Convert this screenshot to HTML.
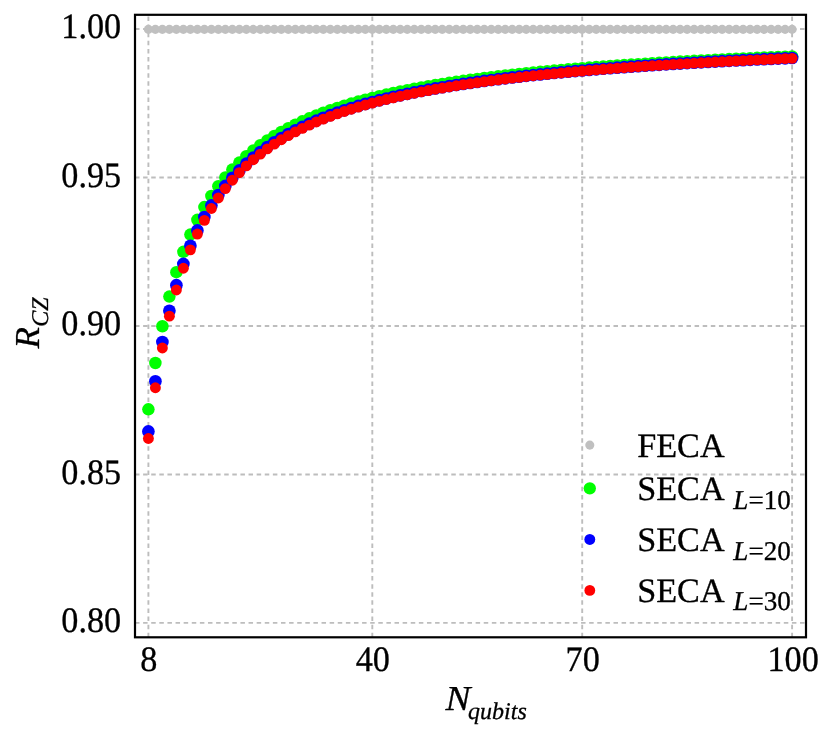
<!DOCTYPE html>
<html><head><meta charset="utf-8"><style>html,body{margin:0;padding:0;background:#fff;overflow:hidden}svg{display:block}text{text-rendering:geometricPrecision;stroke:#000;stroke-width:0.3px}</style></head>
<body><svg width="825" height="730" viewBox="0 0 825 730">
<rect width="825" height="730" fill="#fff"/>
<line x1="148.40" y1="637.30" x2="148.40" y2="14.80" stroke="#bdbdbd" stroke-width="1.9" stroke-dasharray="4.5 3.61" fill="none"/>
<line x1="372.30" y1="637.30" x2="372.30" y2="14.80" stroke="#bdbdbd" stroke-width="1.9" stroke-dasharray="4.5 3.61" fill="none"/>
<line x1="582.20" y1="637.30" x2="582.20" y2="14.80" stroke="#bdbdbd" stroke-width="1.9" stroke-dasharray="4.5 3.61" fill="none"/>
<line x1="792.10" y1="637.30" x2="792.10" y2="14.80" stroke="#bdbdbd" stroke-width="1.9" stroke-dasharray="4.5 3.61" fill="none"/>
<line x1="135.00" y1="29.00" x2="806.00" y2="29.00" stroke="#bdbdbd" stroke-width="1.9" stroke-dasharray="4.5 3.61" fill="none"/>
<line x1="135.00" y1="177.48" x2="806.00" y2="177.48" stroke="#bdbdbd" stroke-width="1.9" stroke-dasharray="4.5 3.61" fill="none"/>
<line x1="135.00" y1="325.95" x2="806.00" y2="325.95" stroke="#bdbdbd" stroke-width="1.9" stroke-dasharray="4.5 3.61" fill="none"/>
<line x1="135.00" y1="474.43" x2="806.00" y2="474.43" stroke="#bdbdbd" stroke-width="1.9" stroke-dasharray="4.5 3.61" fill="none"/>
<line x1="135.00" y1="622.90" x2="806.00" y2="622.90" stroke="#bdbdbd" stroke-width="1.9" stroke-dasharray="4.5 3.61" fill="none"/>
<g fill="#c0c0c0"><circle cx="148.40" cy="29.40" r="4.55"/><circle cx="155.40" cy="29.40" r="4.55"/><circle cx="162.39" cy="29.40" r="4.55"/><circle cx="169.39" cy="29.40" r="4.55"/><circle cx="176.39" cy="29.40" r="4.55"/><circle cx="183.38" cy="29.40" r="4.55"/><circle cx="190.38" cy="29.40" r="4.55"/><circle cx="197.38" cy="29.40" r="4.55"/><circle cx="204.37" cy="29.40" r="4.55"/><circle cx="211.37" cy="29.40" r="4.55"/><circle cx="218.37" cy="29.40" r="4.55"/><circle cx="225.36" cy="29.40" r="4.55"/><circle cx="232.36" cy="29.40" r="4.55"/><circle cx="239.36" cy="29.40" r="4.55"/><circle cx="246.35" cy="29.40" r="4.55"/><circle cx="253.35" cy="29.40" r="4.55"/><circle cx="260.35" cy="29.40" r="4.55"/><circle cx="267.34" cy="29.40" r="4.55"/><circle cx="274.34" cy="29.40" r="4.55"/><circle cx="281.34" cy="29.40" r="4.55"/><circle cx="288.33" cy="29.40" r="4.55"/><circle cx="295.33" cy="29.40" r="4.55"/><circle cx="302.33" cy="29.40" r="4.55"/><circle cx="309.33" cy="29.40" r="4.55"/><circle cx="316.32" cy="29.40" r="4.55"/><circle cx="323.32" cy="29.40" r="4.55"/><circle cx="330.32" cy="29.40" r="4.55"/><circle cx="337.31" cy="29.40" r="4.55"/><circle cx="344.31" cy="29.40" r="4.55"/><circle cx="351.31" cy="29.40" r="4.55"/><circle cx="358.30" cy="29.40" r="4.55"/><circle cx="365.30" cy="29.40" r="4.55"/><circle cx="372.30" cy="29.40" r="4.55"/><circle cx="379.29" cy="29.40" r="4.55"/><circle cx="386.29" cy="29.40" r="4.55"/><circle cx="393.29" cy="29.40" r="4.55"/><circle cx="400.28" cy="29.40" r="4.55"/><circle cx="407.28" cy="29.40" r="4.55"/><circle cx="414.28" cy="29.40" r="4.55"/><circle cx="421.27" cy="29.40" r="4.55"/><circle cx="428.27" cy="29.40" r="4.55"/><circle cx="435.27" cy="29.40" r="4.55"/><circle cx="442.26" cy="29.40" r="4.55"/><circle cx="449.26" cy="29.40" r="4.55"/><circle cx="456.26" cy="29.40" r="4.55"/><circle cx="463.25" cy="29.40" r="4.55"/><circle cx="470.25" cy="29.40" r="4.55"/><circle cx="477.25" cy="29.40" r="4.55"/><circle cx="484.24" cy="29.40" r="4.55"/><circle cx="491.24" cy="29.40" r="4.55"/><circle cx="498.24" cy="29.40" r="4.55"/><circle cx="505.23" cy="29.40" r="4.55"/><circle cx="512.23" cy="29.40" r="4.55"/><circle cx="519.23" cy="29.40" r="4.55"/><circle cx="526.22" cy="29.40" r="4.55"/><circle cx="533.22" cy="29.40" r="4.55"/><circle cx="540.22" cy="29.40" r="4.55"/><circle cx="547.21" cy="29.40" r="4.55"/><circle cx="554.21" cy="29.40" r="4.55"/><circle cx="561.21" cy="29.40" r="4.55"/><circle cx="568.20" cy="29.40" r="4.55"/><circle cx="575.20" cy="29.40" r="4.55"/><circle cx="582.20" cy="29.40" r="4.55"/><circle cx="589.19" cy="29.40" r="4.55"/><circle cx="596.19" cy="29.40" r="4.55"/><circle cx="603.19" cy="29.40" r="4.55"/><circle cx="610.18" cy="29.40" r="4.55"/><circle cx="617.18" cy="29.40" r="4.55"/><circle cx="624.18" cy="29.40" r="4.55"/><circle cx="631.18" cy="29.40" r="4.55"/><circle cx="638.17" cy="29.40" r="4.55"/><circle cx="645.17" cy="29.40" r="4.55"/><circle cx="652.17" cy="29.40" r="4.55"/><circle cx="659.16" cy="29.40" r="4.55"/><circle cx="666.16" cy="29.40" r="4.55"/><circle cx="673.16" cy="29.40" r="4.55"/><circle cx="680.15" cy="29.40" r="4.55"/><circle cx="687.15" cy="29.40" r="4.55"/><circle cx="694.15" cy="29.40" r="4.55"/><circle cx="701.14" cy="29.40" r="4.55"/><circle cx="708.14" cy="29.40" r="4.55"/><circle cx="715.14" cy="29.40" r="4.55"/><circle cx="722.13" cy="29.40" r="4.55"/><circle cx="729.13" cy="29.40" r="4.55"/><circle cx="736.13" cy="29.40" r="4.55"/><circle cx="743.12" cy="29.40" r="4.55"/><circle cx="750.12" cy="29.40" r="4.55"/><circle cx="757.12" cy="29.40" r="4.55"/><circle cx="764.11" cy="29.40" r="4.55"/><circle cx="771.11" cy="29.40" r="4.55"/><circle cx="778.11" cy="29.40" r="4.55"/><circle cx="785.10" cy="29.40" r="4.55"/><circle cx="792.10" cy="29.40" r="4.55"/></g>
<g fill="#00ff00"><circle cx="148.40" cy="409.31" r="6.25"/><circle cx="155.40" cy="363.02" r="6.25"/><circle cx="162.39" cy="326.26" r="6.25"/><circle cx="169.39" cy="296.57" r="6.25"/><circle cx="176.39" cy="272.18" r="6.25"/><circle cx="183.38" cy="251.83" r="6.25"/><circle cx="190.38" cy="234.61" r="6.25"/><circle cx="197.38" cy="219.87" r="6.25"/><circle cx="204.37" cy="207.11" r="6.25"/><circle cx="211.37" cy="195.97" r="6.25"/><circle cx="218.37" cy="186.14" r="6.25"/><circle cx="225.36" cy="177.42" r="6.25"/><circle cx="232.36" cy="169.62" r="6.25"/><circle cx="239.36" cy="162.61" r="6.25"/><circle cx="246.35" cy="156.27" r="6.25"/><circle cx="253.35" cy="150.52" r="6.25"/><circle cx="260.35" cy="145.26" r="6.25"/><circle cx="267.34" cy="140.45" r="6.25"/><circle cx="274.34" cy="136.02" r="6.25"/><circle cx="281.34" cy="131.94" r="6.25"/><circle cx="288.33" cy="128.15" r="6.25"/><circle cx="295.33" cy="124.64" r="6.25"/><circle cx="302.33" cy="121.37" r="6.25"/><circle cx="309.33" cy="118.32" r="6.25"/><circle cx="316.32" cy="115.46" r="6.25"/><circle cx="323.32" cy="112.79" r="6.25"/><circle cx="330.32" cy="110.27" r="6.25"/><circle cx="337.31" cy="107.91" r="6.25"/><circle cx="344.31" cy="105.67" r="6.25"/><circle cx="351.31" cy="103.57" r="6.25"/><circle cx="358.30" cy="101.57" r="6.25"/><circle cx="365.30" cy="99.68" r="6.25"/><circle cx="372.30" cy="97.89" r="6.25"/><circle cx="379.29" cy="96.18" r="6.25"/><circle cx="386.29" cy="94.56" r="6.25"/><circle cx="393.29" cy="93.02" r="6.25"/><circle cx="400.28" cy="91.54" r="6.25"/><circle cx="407.28" cy="90.14" r="6.25"/><circle cx="414.28" cy="88.79" r="6.25"/><circle cx="421.27" cy="87.51" r="6.25"/><circle cx="428.27" cy="86.28" r="6.25"/><circle cx="435.27" cy="85.09" r="6.25"/><circle cx="442.26" cy="83.96" r="6.25"/><circle cx="449.26" cy="82.87" r="6.25"/><circle cx="456.26" cy="81.83" r="6.25"/><circle cx="463.25" cy="80.82" r="6.25"/><circle cx="470.25" cy="79.86" r="6.25"/><circle cx="477.25" cy="78.92" r="6.25"/><circle cx="484.24" cy="78.02" r="6.25"/><circle cx="491.24" cy="77.16" r="6.25"/><circle cx="498.24" cy="76.32" r="6.25"/><circle cx="505.23" cy="75.51" r="6.25"/><circle cx="512.23" cy="74.73" r="6.25"/><circle cx="519.23" cy="73.98" r="6.25"/><circle cx="526.22" cy="73.25" r="6.25"/><circle cx="533.22" cy="72.54" r="6.25"/><circle cx="540.22" cy="71.86" r="6.25"/><circle cx="547.21" cy="71.20" r="6.25"/><circle cx="554.21" cy="70.55" r="6.25"/><circle cx="561.21" cy="69.93" r="6.25"/><circle cx="568.20" cy="69.32" r="6.25"/><circle cx="575.20" cy="68.74" r="6.25"/><circle cx="582.20" cy="68.17" r="6.25"/><circle cx="589.19" cy="67.61" r="6.25"/><circle cx="596.19" cy="67.07" r="6.25"/><circle cx="603.19" cy="66.55" r="6.25"/><circle cx="610.18" cy="66.04" r="6.25"/><circle cx="617.18" cy="65.54" r="6.25"/><circle cx="624.18" cy="65.06" r="6.25"/><circle cx="631.18" cy="64.59" r="6.25"/><circle cx="638.17" cy="64.13" r="6.25"/><circle cx="645.17" cy="63.69" r="6.25"/><circle cx="652.17" cy="63.25" r="6.25"/><circle cx="659.16" cy="62.83" r="6.25"/><circle cx="666.16" cy="62.41" r="6.25"/><circle cx="673.16" cy="62.01" r="6.25"/><circle cx="680.15" cy="61.61" r="6.25"/><circle cx="687.15" cy="61.23" r="6.25"/><circle cx="694.15" cy="60.85" r="6.25"/><circle cx="701.14" cy="60.49" r="6.25"/><circle cx="708.14" cy="60.13" r="6.25"/><circle cx="715.14" cy="59.78" r="6.25"/><circle cx="722.13" cy="59.43" r="6.25"/><circle cx="729.13" cy="59.10" r="6.25"/><circle cx="736.13" cy="58.77" r="6.25"/><circle cx="743.12" cy="58.45" r="6.25"/><circle cx="750.12" cy="58.14" r="6.25"/><circle cx="757.12" cy="57.83" r="6.25"/><circle cx="764.11" cy="57.53" r="6.25"/><circle cx="771.11" cy="57.23" r="6.25"/><circle cx="778.11" cy="56.94" r="6.25"/><circle cx="785.10" cy="56.66" r="6.25"/><circle cx="792.10" cy="56.38" r="6.25"/></g>
<g fill="#0000ff"><circle cx="148.40" cy="431.47" r="6.35"/><circle cx="155.40" cy="381.24" r="6.35"/><circle cx="162.39" cy="342.09" r="6.35"/><circle cx="169.39" cy="310.78" r="6.35"/><circle cx="176.39" cy="285.18" r="6.35"/><circle cx="183.38" cy="263.87" r="6.35"/><circle cx="190.38" cy="245.86" r="6.35"/><circle cx="197.38" cy="230.44" r="6.35"/><circle cx="204.37" cy="217.08" r="6.35"/><circle cx="211.37" cy="205.40" r="6.35"/><circle cx="218.37" cy="195.10" r="6.35"/><circle cx="225.36" cy="185.94" r="6.35"/><circle cx="232.36" cy="177.75" r="6.35"/><circle cx="239.36" cy="170.38" r="6.35"/><circle cx="246.35" cy="163.71" r="6.35"/><circle cx="253.35" cy="157.64" r="6.35"/><circle cx="260.35" cy="152.10" r="6.35"/><circle cx="267.34" cy="147.03" r="6.35"/><circle cx="274.34" cy="142.35" r="6.35"/><circle cx="281.34" cy="138.04" r="6.35"/><circle cx="288.33" cy="134.04" r="6.35"/><circle cx="295.33" cy="130.33" r="6.35"/><circle cx="302.33" cy="126.87" r="6.35"/><circle cx="309.33" cy="123.65" r="6.35"/><circle cx="316.32" cy="120.62" r="6.35"/><circle cx="323.32" cy="117.79" r="6.35"/><circle cx="330.32" cy="115.13" r="6.35"/><circle cx="337.31" cy="112.62" r="6.35"/><circle cx="344.31" cy="110.26" r="6.35"/><circle cx="351.31" cy="108.03" r="6.35"/><circle cx="358.30" cy="105.91" r="6.35"/><circle cx="365.30" cy="103.91" r="6.35"/><circle cx="372.30" cy="102.01" r="6.35"/><circle cx="379.29" cy="100.20" r="6.35"/><circle cx="386.29" cy="98.48" r="6.35"/><circle cx="393.29" cy="96.84" r="6.35"/><circle cx="400.28" cy="95.28" r="6.35"/><circle cx="407.28" cy="93.79" r="6.35"/><circle cx="414.28" cy="92.37" r="6.35"/><circle cx="421.27" cy="91.00" r="6.35"/><circle cx="428.27" cy="89.70" r="6.35"/><circle cx="435.27" cy="88.44" r="6.35"/><circle cx="442.26" cy="87.24" r="6.35"/><circle cx="449.26" cy="86.09" r="6.35"/><circle cx="456.26" cy="84.98" r="6.35"/><circle cx="463.25" cy="83.91" r="6.35"/><circle cx="470.25" cy="82.89" r="6.35"/><circle cx="477.25" cy="81.90" r="6.35"/><circle cx="484.24" cy="80.94" r="6.35"/><circle cx="491.24" cy="80.02" r="6.35"/><circle cx="498.24" cy="79.14" r="6.35"/><circle cx="505.23" cy="78.28" r="6.35"/><circle cx="512.23" cy="77.45" r="6.35"/><circle cx="519.23" cy="76.65" r="6.35"/><circle cx="526.22" cy="75.88" r="6.35"/><circle cx="533.22" cy="75.13" r="6.35"/><circle cx="540.22" cy="74.40" r="6.35"/><circle cx="547.21" cy="73.70" r="6.35"/><circle cx="554.21" cy="73.02" r="6.35"/><circle cx="561.21" cy="72.35" r="6.35"/><circle cx="568.20" cy="71.71" r="6.35"/><circle cx="575.20" cy="71.09" r="6.35"/><circle cx="582.20" cy="70.48" r="6.35"/><circle cx="589.19" cy="69.90" r="6.35"/><circle cx="596.19" cy="69.32" r="6.35"/><circle cx="603.19" cy="68.77" r="6.35"/><circle cx="610.18" cy="68.23" r="6.35"/><circle cx="617.18" cy="67.70" r="6.35"/><circle cx="624.18" cy="67.19" r="6.35"/><circle cx="631.18" cy="66.69" r="6.35"/><circle cx="638.17" cy="66.20" r="6.35"/><circle cx="645.17" cy="65.73" r="6.35"/><circle cx="652.17" cy="65.27" r="6.35"/><circle cx="659.16" cy="64.82" r="6.35"/><circle cx="666.16" cy="64.38" r="6.35"/><circle cx="673.16" cy="63.95" r="6.35"/><circle cx="680.15" cy="63.53" r="6.35"/><circle cx="687.15" cy="63.13" r="6.35"/><circle cx="694.15" cy="62.73" r="6.35"/><circle cx="701.14" cy="62.34" r="6.35"/><circle cx="708.14" cy="61.96" r="6.35"/><circle cx="715.14" cy="61.58" r="6.35"/><circle cx="722.13" cy="61.22" r="6.35"/><circle cx="729.13" cy="60.87" r="6.35"/><circle cx="736.13" cy="60.52" r="6.35"/><circle cx="743.12" cy="60.18" r="6.35"/><circle cx="750.12" cy="59.84" r="6.35"/><circle cx="757.12" cy="59.52" r="6.35"/><circle cx="764.11" cy="59.20" r="6.35"/><circle cx="771.11" cy="58.89" r="6.35"/><circle cx="778.11" cy="58.58" r="6.35"/><circle cx="785.10" cy="58.28" r="6.35"/><circle cx="792.10" cy="57.99" r="6.35"/></g>
<g fill="#ff0000"><circle cx="148.40" cy="438.49" r="5.45"/><circle cx="155.40" cy="387.77" r="5.45"/><circle cx="162.39" cy="348.02" r="5.45"/><circle cx="169.39" cy="316.13" r="5.45"/><circle cx="176.39" cy="290.01" r="5.45"/><circle cx="183.38" cy="268.24" r="5.45"/><circle cx="190.38" cy="249.84" r="5.45"/><circle cx="197.38" cy="234.07" r="5.45"/><circle cx="204.37" cy="220.42" r="5.45"/><circle cx="211.37" cy="208.49" r="5.45"/><circle cx="218.37" cy="197.96" r="5.45"/><circle cx="225.36" cy="188.61" r="5.45"/><circle cx="232.36" cy="180.24" r="5.45"/><circle cx="239.36" cy="172.72" r="5.45"/><circle cx="246.35" cy="165.91" r="5.45"/><circle cx="253.35" cy="159.72" r="5.45"/><circle cx="260.35" cy="154.08" r="5.45"/><circle cx="267.34" cy="148.90" r="5.45"/><circle cx="274.34" cy="144.13" r="5.45"/><circle cx="281.34" cy="139.74" r="5.45"/><circle cx="288.33" cy="135.67" r="5.45"/><circle cx="295.33" cy="131.88" r="5.45"/><circle cx="302.33" cy="128.36" r="5.45"/><circle cx="309.33" cy="125.08" r="5.45"/><circle cx="316.32" cy="122.00" r="5.45"/><circle cx="323.32" cy="119.12" r="5.45"/><circle cx="330.32" cy="116.41" r="5.45"/><circle cx="337.31" cy="113.86" r="5.45"/><circle cx="344.31" cy="111.45" r="5.45"/><circle cx="351.31" cy="109.18" r="5.45"/><circle cx="358.30" cy="107.03" r="5.45"/><circle cx="365.30" cy="104.99" r="5.45"/><circle cx="372.30" cy="103.06" r="5.45"/><circle cx="379.29" cy="101.22" r="5.45"/><circle cx="386.29" cy="99.48" r="5.45"/><circle cx="393.29" cy="97.81" r="5.45"/><circle cx="400.28" cy="96.22" r="5.45"/><circle cx="407.28" cy="94.71" r="5.45"/><circle cx="414.28" cy="93.26" r="5.45"/><circle cx="421.27" cy="91.87" r="5.45"/><circle cx="428.27" cy="90.55" r="5.45"/><circle cx="435.27" cy="89.27" r="5.45"/><circle cx="442.26" cy="88.05" r="5.45"/><circle cx="449.26" cy="86.88" r="5.45"/><circle cx="456.26" cy="85.75" r="5.45"/><circle cx="463.25" cy="84.67" r="5.45"/><circle cx="470.25" cy="83.63" r="5.45"/><circle cx="477.25" cy="82.62" r="5.45"/><circle cx="484.24" cy="81.66" r="5.45"/><circle cx="491.24" cy="80.72" r="5.45"/><circle cx="498.24" cy="79.82" r="5.45"/><circle cx="505.23" cy="78.95" r="5.45"/><circle cx="512.23" cy="78.11" r="5.45"/><circle cx="519.23" cy="77.30" r="5.45"/><circle cx="526.22" cy="76.51" r="5.45"/><circle cx="533.22" cy="75.75" r="5.45"/><circle cx="540.22" cy="75.01" r="5.45"/><circle cx="547.21" cy="74.30" r="5.45"/><circle cx="554.21" cy="73.61" r="5.45"/><circle cx="561.21" cy="72.94" r="5.45"/><circle cx="568.20" cy="72.29" r="5.45"/><circle cx="575.20" cy="71.65" r="5.45"/><circle cx="582.20" cy="71.04" r="5.45"/><circle cx="589.19" cy="70.44" r="5.45"/><circle cx="596.19" cy="69.86" r="5.45"/><circle cx="603.19" cy="69.30" r="5.45"/><circle cx="610.18" cy="68.75" r="5.45"/><circle cx="617.18" cy="68.22" r="5.45"/><circle cx="624.18" cy="67.70" r="5.45"/><circle cx="631.18" cy="67.19" r="5.45"/><circle cx="638.17" cy="66.70" r="5.45"/><circle cx="645.17" cy="66.22" r="5.45"/><circle cx="652.17" cy="65.75" r="5.45"/><circle cx="659.16" cy="65.29" r="5.45"/><circle cx="666.16" cy="64.85" r="5.45"/><circle cx="673.16" cy="64.41" r="5.45"/><circle cx="680.15" cy="63.99" r="5.45"/><circle cx="687.15" cy="63.58" r="5.45"/><circle cx="694.15" cy="63.17" r="5.45"/><circle cx="701.14" cy="62.78" r="5.45"/><circle cx="708.14" cy="62.39" r="5.45"/><circle cx="715.14" cy="62.01" r="5.45"/><circle cx="722.13" cy="61.64" r="5.45"/><circle cx="729.13" cy="61.28" r="5.45"/><circle cx="736.13" cy="60.93" r="5.45"/><circle cx="743.12" cy="60.59" r="5.45"/><circle cx="750.12" cy="60.25" r="5.45"/><circle cx="757.12" cy="59.92" r="5.45"/><circle cx="764.11" cy="59.59" r="5.45"/><circle cx="771.11" cy="59.28" r="5.45"/><circle cx="778.11" cy="58.97" r="5.45"/><circle cx="785.10" cy="58.66" r="5.45"/><circle cx="792.10" cy="58.36" r="5.45"/></g>
<rect x="135.0" y="14.8" width="671.0" height="622.5" fill="none" stroke="#000" stroke-width="2.2"/>
<text transform="translate(121.2,38.20) scale(1,1.045)" font-family="'Liberation Serif', 'Times New Roman', serif" font-size="34.2" text-anchor="end">1.00</text>
<text transform="translate(121.2,186.68) scale(1,1.045)" font-family="'Liberation Serif', 'Times New Roman', serif" font-size="34.2" text-anchor="end">0.95</text>
<text transform="translate(121.2,335.15) scale(1,1.045)" font-family="'Liberation Serif', 'Times New Roman', serif" font-size="34.2" text-anchor="end">0.90</text>
<text transform="translate(121.2,483.62) scale(1,1.045)" font-family="'Liberation Serif', 'Times New Roman', serif" font-size="34.2" text-anchor="end">0.85</text>
<text transform="translate(121.2,632.10) scale(1,1.045)" font-family="'Liberation Serif', 'Times New Roman', serif" font-size="34.2" text-anchor="end">0.80</text>
<text transform="translate(148.80,670.6) scale(1,1.045)" font-family="'Liberation Serif', 'Times New Roman', serif" font-size="34.2" text-anchor="middle">8</text>
<text transform="translate(372.80,670.6) scale(1,1.045)" font-family="'Liberation Serif', 'Times New Roman', serif" font-size="34.2" text-anchor="middle">40</text>
<text transform="translate(582.70,670.6) scale(1,1.045)" font-family="'Liberation Serif', 'Times New Roman', serif" font-size="34.2" text-anchor="middle">70</text>
<text transform="translate(793.10,670.6) scale(1,1.045)" font-family="'Liberation Serif', 'Times New Roman', serif" font-size="34.2" text-anchor="middle">100</text>
<text transform="translate(445.4,709.9) scale(1.07,1)" font-family="'Liberation Serif', 'Times New Roman', serif" font-size="35" font-style="italic">N</text>
<text x="468.1" y="718.7" font-family="'Liberation Serif', 'Times New Roman', serif" font-size="24" font-style="italic">qubits</text>
<g transform="translate(38.7,348.6) rotate(-90)"><text x="0" y="0" font-family="'Liberation Serif', 'Times New Roman', serif" font-size="35" font-style="italic">R</text><text x="21.8" y="8.8" font-family="'Liberation Serif', 'Times New Roman', serif" font-size="24" font-style="italic">CZ</text></g>
<circle cx="589.8" cy="445.1" r="4.55" fill="#c0c0c0"/>
<text x="637.2" y="456.5" font-family="'Liberation Serif', 'Times New Roman', serif" font-size="34.2">FECA</text>
<circle cx="589.8" cy="488.3" r="6.15" fill="#00ff00"/>
<text x="637.2" y="500.0" font-family="'Liberation Serif', 'Times New Roman', serif" font-size="34.2">SECA</text>
<text x="733.3" y="508.8" font-family="'Liberation Serif', 'Times New Roman', serif" font-size="27.1"><tspan font-style="italic">L</tspan>=10</text>
<circle cx="589.8" cy="539.45" r="5.45" fill="#0000ff"/>
<text x="637.2" y="551.1" font-family="'Liberation Serif', 'Times New Roman', serif" font-size="34.2">SECA</text>
<text x="733.3" y="559.9" font-family="'Liberation Serif', 'Times New Roman', serif" font-size="27.1"><tspan font-style="italic">L</tspan>=20</text>
<circle cx="589.8" cy="590.4" r="5.4" fill="#ff0000"/>
<text x="637.2" y="601.5" font-family="'Liberation Serif', 'Times New Roman', serif" font-size="34.2">SECA</text>
<text x="733.3" y="610.3" font-family="'Liberation Serif', 'Times New Roman', serif" font-size="27.1"><tspan font-style="italic">L</tspan>=30</text>
</svg></body></html>
